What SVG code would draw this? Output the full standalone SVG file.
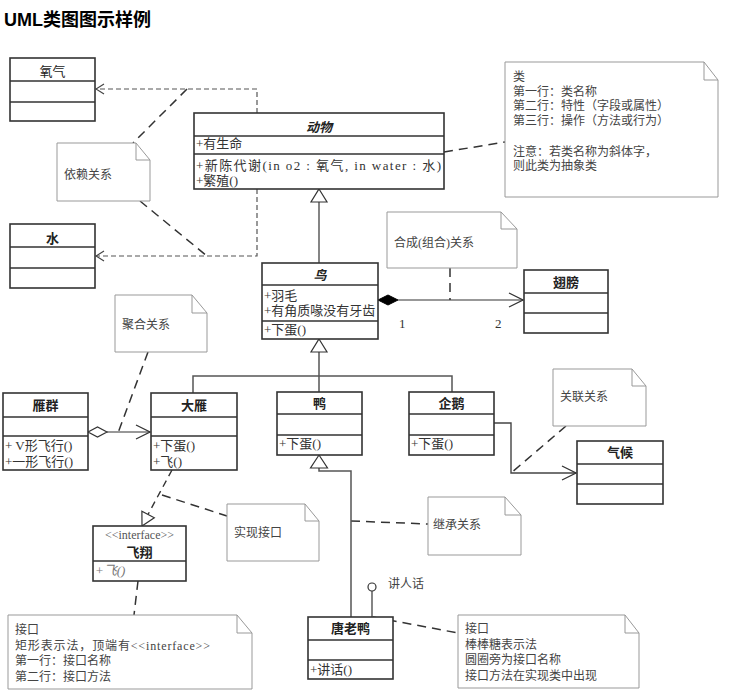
<svg xmlns="http://www.w3.org/2000/svg" width="730" height="694" viewBox="0 0 730 694">
<style>
.box{fill:#fff;stroke:#333;stroke-width:1.6}
.sep{stroke:#333;stroke-width:1.4}
.note{fill:#fff;stroke:#999;stroke-width:1}
.fold{fill:none;stroke:#999;stroke-width:1}
.cn{font-family:"Noto Sans CJK SC","Liberation Sans",sans-serif;font-size:13px;font-weight:bold;fill:#222;text-anchor:middle}
.mb{font-family:"Liberation Serif","Noto Sans CJK SC",serif;font-size:13px;fill:#333}
.nt{font-family:"Liberation Serif","Noto Sans CJK SC",serif;font-size:12px;fill:#444}
.dep{fill:none;stroke:#555;stroke-width:1.2;stroke-dasharray:5 3}
.lnk{fill:none;stroke:#333;stroke-width:1.5;stroke-dasharray:9 6}
.sol{fill:none;stroke:#333;stroke-width:1.2}
.gen{fill:#fff;stroke:#333;stroke-width:1.2}
</style>
<defs>
<marker id="arS" viewBox="0 0 10 12" refX="9" refY="6" markerWidth="10" markerHeight="12" orient="auto" markerUnits="userSpaceOnUse"><path d="M1,1 L9,6 L1,11" fill="none" stroke="#444" stroke-width="1.2"/></marker>
<marker id="arL" viewBox="0 0 16 16" refX="15" refY="8" markerWidth="16" markerHeight="16" orient="auto" markerUnits="userSpaceOnUse"><path d="M1,1 L15,8 L1,15" fill="none" stroke="#333" stroke-width="1.3"/></marker>
</defs>
<rect width="730" height="694" fill="#fff"/>
<text x="4" y="26" font-family="'Liberation Sans','Noto Sans CJK SC',sans-serif" font-size="18" font-weight="bold" fill="#000">UML类图图示样例</text>

<g id="connectors">
  <path class="dep" d="M257,113 V89 H96" marker-end="url(#arS)"/>
  <path class="dep" d="M257,189 V256 H96" marker-end="url(#arS)"/>
  <path class="lnk" d="M187,89 L133,143"/>
  <path class="lnk" d="M140,201 L207,256"/>
  <path class="lnk" d="M444,152 L505,142"/>
  <path class="lnk" d="M450,268 V300"/>
  <path class="lnk" d="M148,352 L118,433"/>
  <path class="lnk" d="M566,426 L511,473"/>
  <path class="lnk" d="M162,495 L227,516"/>
  <path class="lnk" d="M351,521 L428,524"/>
  <path class="lnk" d="M138,581 L134,615"/>
  <path class="lnk" d="M373,617 L458,633"/>
  <path class="sol" d="M319,263 V202"/>
  <path class="gen" d="M319,189 L327,202 L311,202 Z"/>
  <path class="sol" d="M319,352 V376 M193,393 V376 H452 V392 M319,376 V392" style="stroke:#555;stroke-width:1.5"/>
  <path class="gen" d="M319,339 L327,352 L311,352 Z"/>
  <path class="sol" d="M319,468 V471 H351 V617" style="stroke:#555;stroke-width:1.5"/>
  <path class="gen" d="M319,455 L327.5,468 L310.5,468 Z"/>
  <path class="sol" d="M398,300 H523" marker-end="url(#arL)"/>
  <path d="M378,300 L388,295 L398,300 L388,305 Z" fill="#000" stroke="#000" stroke-width="1"/>
  <text class="mb" x="399" y="328">1</text>
  <text class="mb" x="495" y="328">2</text>
  <path class="sol" d="M107,432 H150" marker-end="url(#arL)"/>
  <path d="M88,432 L97.5,427 L107,432 L97.5,437 Z" fill="#fff" stroke="#333" stroke-width="1.2"/>
  <path class="sol" d="M494,423 H511 V473 H576" marker-end="url(#arL)" style="stroke:#444;stroke-width:1.4"/>
  <path class="dep" d="M172,470 L148,514.5" style="stroke:#333;stroke-width:1.4;stroke-dasharray:7 5"/>
  <path class="gen" d="M142,526 L154.3,517.8 L141.9,511.2 Z"/>
  <path class="sol" d="M372,617 V591"/>
  <circle cx="372" cy="587" r="4" fill="#fff" stroke="#333" stroke-width="1.2"/>
  <text class="nt" x="388" y="588">讲人话</text>
</g>

<g id="yangqi">
  <rect class="box" x="10" y="58" width="85" height="63"/>
  <path class="sep" d="M10,81 H95 M10,102 H95"/>
  <text class="cn" x="52.5" y="75.5" style="font-weight:normal">氧气</text>
</g>
<g id="shui">
  <rect class="box" x="10" y="224" width="85" height="64"/>
  <path class="sep" d="M10,247 H95 M10,268 H95"/>
  <text class="cn" x="52.5" y="242.5">水</text>
</g>
<g id="dongwu">
  <rect class="box" x="194" y="113" width="250" height="76"/>
  <path class="sep" d="M194,136 H444 M194,154 H444"/>
  <text class="cn" x="319" y="131.5" font-style="italic">动物</text>
  <text class="mb" x="196" y="148">+有生命</text>
  <text class="mb" x="196" y="169.5" textLength="245" lengthAdjust="spacing">+新陈代谢(in o2 : 氧气, in water : 水)</text>
  <text class="mb" x="196" y="184.5">+繁殖()</text>
</g>
<g id="note-class">
  <path class="note" d="M505,62 H704 L718,80 V197 H505 Z"/>
  <path class="fold" d="M704,62 V80 H718"/>
  <text class="nt" x="513" y="81">类</text>
  <text class="nt" x="513" y="95.5">第一行：类名称</text>
  <text class="nt" x="513" y="110">第二行：特性（字段或属性）</text>
  <text class="nt" x="513" y="124.5">第三行：操作（方法或行为）</text>
  <text class="nt" x="513" y="156">注意：若类名称为斜体字，</text>
  <text class="nt" x="513" y="170">则此类为抽象类</text>
</g>
<g id="note-dep">
  <path class="note" d="M57,143 H136 L150,160 V201 H57 Z"/>
  <path class="fold" d="M136,143 V160 H150"/>
  <text class="nt" x="64" y="179">依赖关系</text>
</g>
<g id="niao">
  <rect class="box" x="262" y="263" width="116" height="76"/>
  <path class="sep" d="M262,285 H378 M262,321 H378"/>
  <text class="cn" x="320" y="279.5" font-style="italic">鸟</text>
  <text class="mb" x="264" y="299.5">+羽毛</text>
  <text class="mb" x="264" y="314.5">+有角质喙没有牙齿</text>
  <text class="mb" x="264" y="333.5">+下蛋()</text>
</g>
<g id="note-comp">
  <path class="note" d="M387,212 H501 L517,229 V268 H387 Z"/>
  <path class="fold" d="M501,212 V229 H517"/>
  <text class="nt" x="394" y="247">合成(组合)关系</text>
</g>
<g id="chibang">
  <rect class="box" x="524" y="270" width="84" height="63"/>
  <path class="sep" d="M524,293 H608 M524,313 H608"/>
  <text class="cn" x="566" y="286.5">翅膀</text>
</g>
<g id="note-agg">
  <path class="note" d="M115,295 H192 L207,313 V352 H115 Z"/>
  <path class="fold" d="M192,295 V313 H207"/>
  <text class="nt" x="122" y="329">聚合关系</text>
</g>
<g id="yanqun">
  <rect class="box" x="3" y="393" width="85" height="77"/>
  <path class="sep" d="M3,417 H88 M3,436 H88"/>
  <text class="cn" x="45.5" y="409.5">雁群</text>
  <text class="mb" x="5" y="449.5">+ V形飞行()</text>
  <text class="mb" x="5" y="465.5">+一形飞行()</text>
</g>
<g id="dayan">
  <rect class="box" x="151" y="393" width="86" height="77"/>
  <path class="sep" d="M151,417 H237 M151,436 H237"/>
  <text class="cn" x="194" y="409.5">大雁</text>
  <text class="mb" x="153" y="449.5">+下蛋()</text>
  <text class="mb" x="153" y="465.5">+飞()</text>
</g>
<g id="ya">
  <rect class="box" x="277" y="392" width="85" height="63"/>
  <path class="sep" d="M277,414 H362 M277,435 H362"/>
  <text class="cn" x="319.5" y="407.5">鸭</text>
  <text class="mb" x="279" y="447.5">+下蛋()</text>
</g>
<g id="qie">
  <rect class="box" x="409" y="392" width="85" height="63"/>
  <path class="sep" d="M409,414 H494 M409,435 H494"/>
  <text class="cn" x="451.5" y="407.5">企鹅</text>
  <text class="mb" x="411" y="447.5">+下蛋()</text>
</g>
<g id="note-assoc">
  <path class="note" d="M553,369 H632 L646,386 V426 H553 Z"/>
  <path class="fold" d="M632,369 V386 H646"/>
  <text class="nt" x="560" y="401">关联关系</text>
</g>
<g id="qihou">
  <rect class="box" x="577" y="441" width="86" height="63"/>
  <path class="sep" d="M577,464 H663 M577,484 H663"/>
  <text class="cn" x="620" y="456.5">气候</text>
</g>
<g id="note-real">
  <path class="note" d="M227,504 H305 L319,521 V561 H227 Z"/>
  <path class="fold" d="M305,504 V521 H319"/>
  <text class="nt" x="234" y="537">实现接口</text>
</g>
<g id="note-inh">
  <path class="note" d="M428,497 H505 L521,515 V555 H428 Z"/>
  <path class="fold" d="M505,497 V515 H521"/>
  <text class="nt" x="433" y="529">继承关系</text>
</g>
<g id="feixiang">
  <rect class="box" x="93" y="526" width="93" height="55"/>
  <path class="sep" d="M93,561 H186"/>
  <text class="mb" x="139.5" y="539" text-anchor="middle" style="font-size:12px;fill:#555">&lt;&lt;interface&gt;&gt;</text>
  <text class="cn" x="139.5" y="556.5">飞翔</text>
  <text class="mb" x="95" y="575" font-style="italic" style="fill:#777">+飞()</text>
</g>
<g id="tanglaoya">
  <rect class="box" x="308" y="617" width="85" height="62"/>
  <path class="sep" d="M308,640 H393 M308,660 H393"/>
  <text class="cn" x="350.5" y="632.5">唐老鸭</text>
  <text class="mb" x="310" y="673.5">+讲话()</text>
</g>
<g id="note-iface1">
  <path class="note" d="M8,615 H237 L252,633 V689 H8 Z"/>
  <path class="fold" d="M237,615 V633 H252"/>
  <text class="nt" x="15" y="634">接口</text>
  <text class="nt" x="15" y="650" textLength="195" lengthAdjust="spacing">矩形表示法，顶端有&lt;&lt;interface&gt;&gt;</text>
  <text class="nt" x="15" y="665">第一行：接口名称</text>
  <text class="nt" x="15" y="681">第二行：接口方法</text>
</g>
<g id="note-iface2">
  <path class="note" d="M458,615 H625 L639,633 V688 H458 Z"/>
  <path class="fold" d="M625,615 V633 H639"/>
  <text class="nt" x="465" y="633">接口</text>
  <text class="nt" x="465" y="649">棒棒糖表示法</text>
  <text class="nt" x="465" y="664">圆圈旁为接口名称</text>
  <text class="nt" x="465" y="680">接口方法在实现类中出现</text>
</g>
</svg>
